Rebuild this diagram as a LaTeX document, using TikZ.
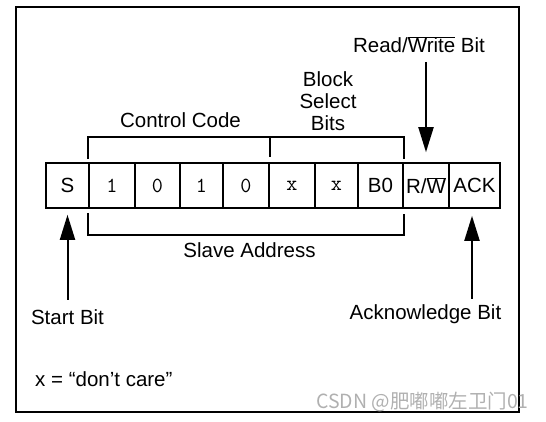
\documentclass[tikz,border=0pt]{standalone}
\usepackage{fontspec}
\setmainfont{Liberation Sans}
\newfontfamily\cjkfont{Noto Sans CJK SC}
\usetikzlibrary{arrows.meta}
\definecolor{wmgray}{HTML}{B0B0B0}
\begin{document}
\begin{tikzpicture}[x=1pt,y=-1pt,
  cell/.style={draw, line width=1.6pt, minimum height=45pt, inner sep=0pt,
    font=\fontsize{20.5}{22}\selectfont},
  mono/.style={font=\ttfamily\fontsize{21.5}{23}\selectfont},
  lbl/.style={font=\fontsize{20.5}{22}\selectfont, inner sep=0pt},
  brk/.style={line width=1.7pt},
  arr/.style={line width=2pt, -{Triangle[length=25pt,width=15pt]}}]
\useasboundingbox (0,0) rectangle (546,422);
\draw[line width=2.4pt] (16,7) rectangle (519,412);
% cells
\node[cell, minimum width=43pt] (cS) at (67.5,185.5) {S};
\node[cell, mono, minimum width=46pt] (c1) at (112,185.5) {1};
\node[cell, mono, minimum width=45pt] (c2) at (157.5,185.5) {0};
\node[cell, mono, minimum width=43pt] (c3) at (201.5,185.5) {1};
\node[cell, mono, minimum width=46pt] (c4) at (246,185.5) {0};
\node[cell, mono, minimum width=46pt] (c5) at (292,185.5) {x};
\node[cell, mono, minimum width=43pt] (c6) at (336.5,185.5) {x};
\node[cell, minimum width=45pt] (c7) at (380.5,185.5) {B0};
\node[cell, minimum width=46pt] (c8) at (426,185.5) {R/$\overline{\hbox{W}}$};
\node[cell, minimum width=51pt] (c9) at (474.5,185.5) {ACK};
% brackets
\coordinate (brtop) at (0,137);
\coordinate (brbot) at (0,235);
\draw[brk] ([yshift=3pt]c1.north west) |- (c7.north east |- brtop) -- ([yshift=3pt]c7.north east);
\draw[line width=2.5pt] (c4.north east |- brtop) -- ([yshift=5pt]c4.north east);
\draw[brk] ([yshift=-4pt]c1.south west) |- (c7.south east |- brbot) -- ([yshift=-5pt]c7.south east);
% labels
\node[lbl, anchor=base] (cc) at (180.5,128) {Control Code};
\node[lbl, align=center, font=\fontsize{20.5}{22}\selectfont] (bsb) at (328,101) {Block\\Select\\Bits};
\node[lbl, anchor=base] (rw) at (419,53) {Read/$\overline{\hbox{Write}}$ Bit};
\node[lbl, anchor=base] (sa) at (249.5,257) {Slave Address};
\node[lbl, anchor=base] (sb) at (67.5,324) {Start Bit};
\node[lbl, anchor=base] (ab) at (425.5,319) {Acknowledge Bit};
\node[lbl, anchor=base west] (dc) at (35,386) {x = “don’t care”};
\node[inner sep=0pt, anchor=base east, text=wmgray, font=\cjkfont\fontsize{19.5}{21}\selectfont] (wm) at (529,408) {CSDN @肥嘟嘟左卫门01};
% arrows
\draw[arr] ([yshift=-9pt]rw.base -| c8.north) -- ([yshift=10pt]c8.north);
\draw[arr] ([yshift=-91pt]cS.south) -- ([yshift=-6pt]cS.south);
\draw[arr] ([xshift=-2.5pt,yshift=-90pt]c9.south) -- ([xshift=-2.5pt,yshift=-7pt]c9.south);
\end{tikzpicture}
\end{document}
